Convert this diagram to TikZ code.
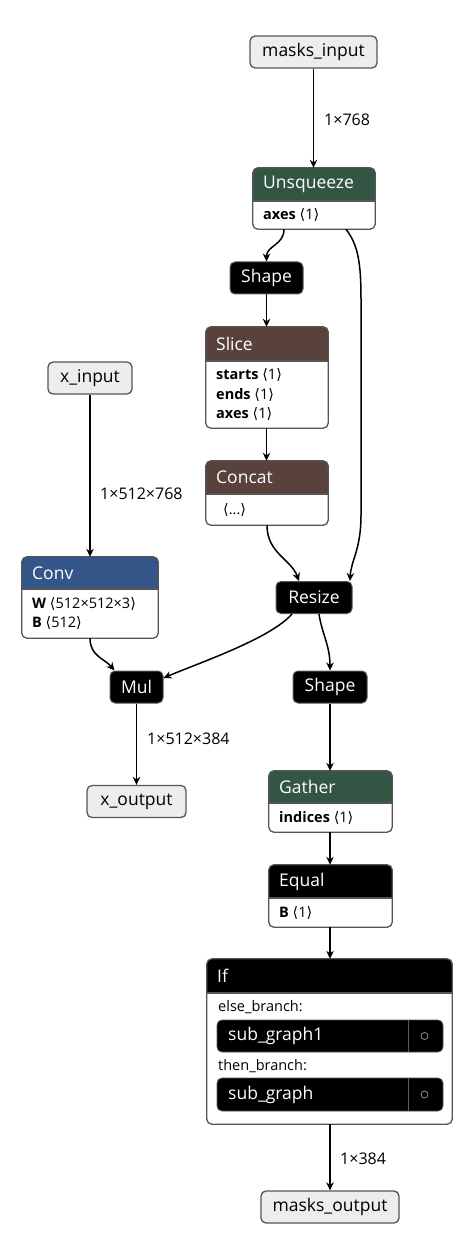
\documentclass[tikz,border=0pt]{standalone}
\usepackage{fontspec}
\setmainfont{Open Sans}
\newfontfamily\symfont{DejaVu Sans}
\usetikzlibrary{arrows.meta,fit}

\definecolor{transcol}{HTML}{335544}
\definecolor{tenscol}{HTML}{59423B}
\definecolor{layercol}{HTML}{335588}
\definecolor{boxgray}{HTML}{555555}

\newcommand{\tens}[1]{{\symfont⟨}#1{\symfont⟩}}

% operator box: name, left, top, right, bottom, header bottom, colour, title, body
\newcommand{\opnode}[9]{%
  \node[fit={(#2,#3) (#4,#5)}, inner sep=0pt] (#1) {};
  \begin{scope}
    \clip[rounded corners=5pt] (#1.north west) rectangle (#1.south east);
    \fill[white] (#1.north west) rectangle (#1.south east);
    \fill[#7] (#1.north west) rectangle (#4,#6);
  \end{scope}
  \draw[boxline, rounded corners=5pt] (#1.north west) rectangle (#1.south east);
  \draw[boxline] (#2,#6) -- (#4,#6);
  \node[optitle] (#1t) at (#2+10, {(#3+#6)/2}) {#8};
  \node[opbody] (#1b) at (#2+10, {(#6+#5)/2}) {#9};
}

\tikzset{
  boxline/.style={draw=boxgray, line width=1.3pt},
  edge/.style={draw=black, line width=1.5pt, -{Stealth[length=8pt,width=7.5pt,inset=2.5pt]}},
  iobox/.style={boxline, fill=black!7, rounded corners=5pt, minimum height=32pt,
    inner sep=0pt, font=\fontsize{17.5}{19}\selectfont},
  blackop/.style={fill=black, draw=boxgray, line width=1pt, text=white, rounded corners=5pt,
    minimum height=32pt, inner sep=0pt, font=\fontsize{17.5}{19}\selectfont},
  optitle/.style={anchor=west, inner sep=0pt, text=white, font=\fontsize{17.5}{19}\selectfont},
  opbody/.style={anchor=west, inner sep=0pt, align=left, font=\fontsize{14.5}{19.5}\selectfont},
  edgelbl/.style={anchor=west, inner sep=0pt, font=\fontsize{16}{18}\selectfont},
  branchlbl/.style={anchor=west, inner sep=0pt, font=\fontsize{14.5}{16}\selectfont},
  subbar/.style={fill=black, draw=boxgray, line width=0.8pt, rounded corners=5pt, inner sep=0pt},
  subtext/.style={anchor=west, inner sep=0pt, text=white, font=\fontsize{17.5}{19}\selectfont},
  bardiv/.style={draw=black!65, line width=0.8pt},
  dot/.style={circle, draw=black!45, line width=0.8pt, inner sep=0pt, minimum size=7pt},
}

\begin{document}
\begin{tikzpicture}[x=1pt,y=-1pt]
\useasboundingbox (0,0) rectangle (474,1246);

% inputs and operators
\node[iobox, minimum width=127pt] (maskin) at (313.5,52) {masks\_input};
\opnode{unsq}{253}{168}{375}{229}{201}{transcol}{Unsqueeze}{\textbf{axes} \tens{1}}
\node[blackop, minimum width=73pt] (shapea) at (266.5,278) {Shape};
\opnode{slice}{206}{327}{328}{428}{361}{tenscol}{Slice}{\textbf{starts} \tens{1}\\\textbf{ends} \tens{1}\\\textbf{axes} \tens{1}}
\opnode{concat}{206}{461}{328}{525}{494}{tenscol}{Concat}{\hspace{7pt}\tens{...}}
\node[iobox, minimum width=84pt] (xin) at (90,378) {x\_input};
\opnode{conv}{22}{557}{158}{638}{589}{layercol}{Conv}{\textbf{W} \tens{512×512×3}\\\textbf{B} \tens{512}}
\node[blackop, minimum width=76pt] (resize) at (314,597.5) {Resize};
\node[blackop, minimum width=53pt] (mul) at (136.5,687) {Mul};
\node[blackop, minimum width=74pt] (shapeb) at (330,687) {Shape};
\node[iobox, minimum width=99pt] (xout) at (136.5,801.5) {x\_output};
\opnode{gather}{269}{771}{392}{832}{803}{transcol}{Gather}{\textbf{indices} \tens{1}}
\opnode{equal}{269}{865}{392}{927}{898}{black}{Equal}{\textbf{B} \tens{1}}
\opnode{if}{207}{959}{452}{1124}{993}{black}{If}{}
\node[branchlbl] (elsel) at (218,1007) {else\_branch:};
\node[subbar, fit={(217,1020) (443,1052)}] (subga) {};
\node[subtext] (subgat) at (228,1036) {sub\_graph1};
\draw[bardiv] (408,1020) -- (408,1052);
\node[dot] (subgac) at (424.5,1036) {};
\node[branchlbl] (thenl) at (218,1066) {then\_branch:};
\node[subbar, fit={(217,1078) (443,1111)}] (subgb) {};
\node[subtext] (subgbt) at (228,1094.5) {sub\_graph};
\draw[bardiv] (408,1078) -- (408,1111);
\node[dot] (subgbc) at (424.5,1094.5) {};
\node[iobox, minimum width=138pt] (maskout) at (330,1207) {masks\_output};

% connectors
\draw[edge] (maskin.south) -- (maskin.south |- unsq.north);
\node[edgelbl] (lbla) at (324,120) {1×768};
\draw[edge] ([xshift=-30pt]unsq.south) .. controls +(0,16) and +(0,-16) .. (shapea.north);
\draw[edge] ([xshift=32pt]unsq.south) .. controls (358,245) and (361,262) .. (361,300)
  -- (361,515) .. controls (361,550) and (351,560) .. ([xshift=36pt]resize.north);
\draw[edge] (shapea.south) -- (shapea.south |- slice.north);
\draw[edge] (shapea.south |- slice.south) -- (shapea.south |- concat.north);
\draw[edge] (concat.south) .. controls +(0,28) and +(-8,-22) .. ([xshift=-15pt]resize.north);
\draw[edge] (xin.south) -- (xin.south |- conv.north);
\node[edgelbl] (lblb) at (100,494) {1×512×768};
\draw[edge] (conv.south) .. controls +(0,18) and +(-10,-12) .. ([xshift=-22pt]mul.north);
\draw[edge] ([xshift=-22pt]resize.south) .. controls +(-22,25) and +(35,-15) .. ([yshift=9pt]mul.east);
\draw[edge] ([xshift=5pt]resize.south) .. controls +(3,20) and +(0,-25) .. (shapeb.north);
\draw[edge] (mul.south) -- (mul.south |- xout.north);
\node[edgelbl] (lblc) at (147,739) {1×512×384};
\draw[edge] (shapeb.south) -- (shapeb.south |- gather.north);
\draw[edge] (shapeb.south |- gather.south) -- (shapeb.south |- equal.north);
\draw[edge] (shapeb.south |- equal.south) -- (shapeb.south |- if.north);
\draw[edge] (shapeb.south |- if.south) -- (shapeb.south |- maskout.north);
\node[edgelbl] (lbld) at (340,1159) {1×384};
\end{tikzpicture}
\end{document}
